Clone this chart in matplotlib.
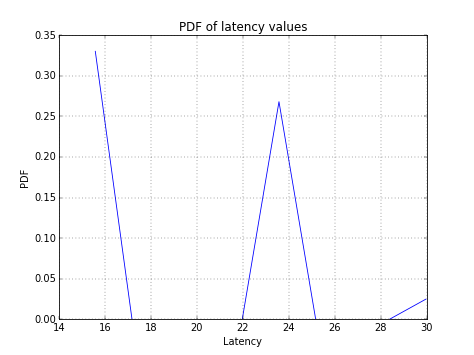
import matplotlib
matplotlib.use("Agg")
import matplotlib.pyplot as plt
import numpy as np

# bin centres and pdf values
latency = [15.57, 17.17, 18.77, 20.37, 21.97, 23.57, 25.17, 26.77, 28.37, 29.97]
pdf = [0.330, 0.0, 0.0, 0.0, 0.0, 0.268, 0.0, 0.0, 0.0, 0.025]

plt.style.use('classic')
fig = plt.figure(figsize=(8, 6), dpi=59.25, facecolor='white')
ax = fig.add_subplot(111)
ax.plot(latency, pdf, 'b-')
ax.set_xlim(14, 30)
ax.set_ylim(0, 0.35)
ax.set_xticks(np.arange(14, 31, 2))
ax.set_yticks(np.arange(0, 0.36, 0.05))
ax.grid(True)
ax.set_title('PDF of latency values')
ax.set_xlabel('Latency')
ax.set_ylabel('PDF')
fig.savefig('out.png', dpi=59.25, facecolor='white')
